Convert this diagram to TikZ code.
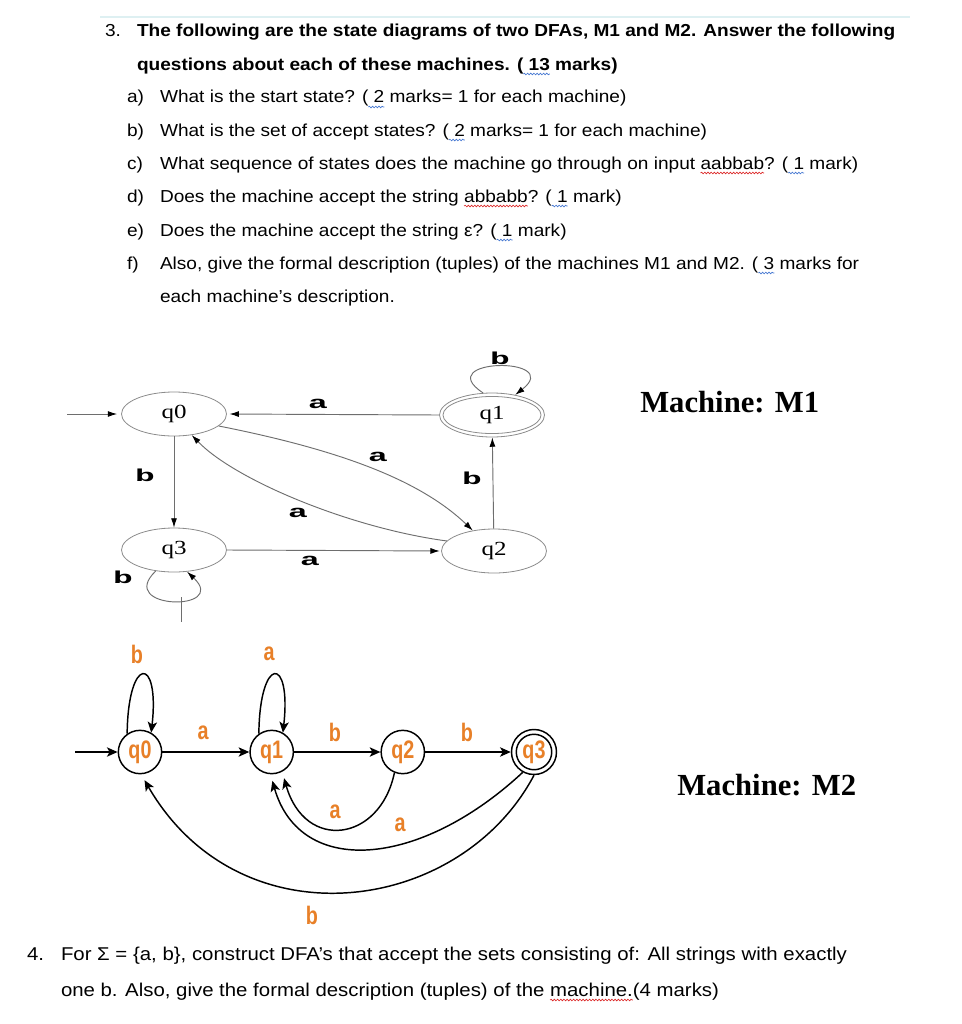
\documentclass[tikz,border=0pt]{standalone}
\usepackage{fontspec}
\usepackage{graphicx}
\setmainfont{Liberation Sans}
\newfontfamily\bodyfont{Liberation Sans}[FakeStretch=1.1]
\newfontfamily\monofont{Liberation Mono}
\newfontfamily\seriffont{Liberation Serif}
\usetikzlibrary{shapes.geometric,arrows.meta,decorations.pathmorphing}
\definecolor{m1gray}{RGB}{110,110,110}
\definecolor{m1ell}{RGB}{140,140,140}
\definecolor{m2orange}{RGB}{232,128,40}
\definecolor{sqblue}{RGB}{70,120,210}
\definecolor{sqred}{RGB}{220,40,40}
\definecolor{rulecyan}{RGB}{222,240,242}
\newcommand\qlab[1]{\scalebox{1.25}[1]{#1}}
\newcommand\wlab[1]{\scalebox{1.9}[1]{#1}}
\newcommand\olab[1]{\scalebox{0.78}[1]{#1}}
\begin{document}
\begin{tikzpicture}[x=0.75pt,y=-0.75pt,
  txt/.style={inner sep=0pt,outer sep=0pt,anchor=base west,font=\bodyfont\fontsize{13}{15}\selectfont},
  txtb/.style={txt,font=\bodyfont\fontsize{13}{15}\selectfont\bfseries},
  txtq/.style={txt,font=\bodyfont\fontsize{13.9}{16}\selectfont},
  sqb/.style={draw=sqblue,line width=0.5pt,decorate,decoration={snake,amplitude=0.6pt,segment length=2.4pt}},
  sqr/.style={sqb,draw=sqred},
  m1state/.style={ellipse,draw=m1ell,line width=0.6pt,minimum width=78.75pt,minimum height=33pt,inner sep=0pt,font=\seriffont\fontsize{15}{15}\selectfont},
  m1edge/.style={draw=m1gray,line width=0.7pt,-{Latex[color=black,length=7pt,width=4.5pt]}},
  m1lab/.style={inner sep=0pt,font=\monofont\bfseries\fontsize{13}{13}\selectfont},
  m2state/.style={circle,draw=black,line width=1.1pt,minimum size=32.5pt,inner sep=0pt,text=m2orange,font=\bfseries\fontsize{19}{19}\selectfont},
  m2edge/.style={draw=black,line width=1.1pt,-{Stealth[length=8pt,width=7pt,inset=2pt]}},
  m2lab/.style={inner sep=0pt,text=m2orange,font=\bfseries\fontsize{19}{19}\selectfont},
  mach/.style={inner sep=0pt,anchor=base west,font=\seriffont\bfseries\fontsize{23}{23}\selectfont}
]
\fill[white] (0,0) rectangle (961,1024);
\useasboundingbox (0,0) rectangle (961,1024);

% faint rule
\coordinate (r1) at (100,17);
\coordinate (r2) at (910,17);
\draw[rulecyan,line width=0.8pt] (r1) -- (r2);

% question 3
\node[txt] (n3) at (105,37) {3.};
\node[txtb] (l1) at (137,37) {The following are the state diagrams of two DFAs, M1 and M2. Answer the following};
\node[txtb] (l2a) at (137,70) {questions about each of these machines. (};
\node[txtb] (l2b) at (l2a.base east) {\ 13};
\node[txtb] (l2c) at (l2b.base east) {\ marks)};
\draw[sqb] ([yshift=-3pt]l2b.base west) -- ([yshift=-3pt]l2b.base east);

\node[txt] (la) at (127,103) {a)};
\node[txt] (la1) at (160,103) {What is the start state? (};
\node[txt] (la2) at (la1.base east) {\ 2};
\node[txt] (la3) at (la2.base east) {\ marks= 1 for each machine)};
\draw[sqb] ([yshift=-3pt]la2.base west) -- ([yshift=-3pt]la2.base east);

\node[txt] (lb) at (127,136) {b)};
\node[txt] (lb1) at (160,136) {What is the set of accept states? (};
\node[txt] (lb2) at (lb1.base east) {\ 2};
\node[txt] (lb3) at (lb2.base east) {\ marks= 1 for each machine)};
\draw[sqb] ([yshift=-3pt]lb2.base west) -- ([yshift=-3pt]lb2.base east);

\node[txt] (lc) at (127,169) {c)};
\node[txt] (lc1) at (160,169) {What sequence of states does the machine go through on input\ \hbox{}};
\node[txt] (lc2) at (lc1.base east) {aabbab};
\node[txt] (lc3) at (lc2.base east) {? (};
\node[txt] (lc4) at (lc3.base east) {\ 1};
\node[txt] (lc5) at (lc4.base east) {\ mark)};
\draw[sqr] ([yshift=-3pt]lc2.base west) -- ([yshift=-3pt]lc2.base east);
\draw[sqb] ([yshift=-3pt]lc4.base west) -- ([yshift=-3pt]lc4.base east);

\node[txt] (ld) at (127,202) {d)};
\node[txt] (ld1) at (160,202) {Does the machine accept the string\ \hbox{}};
\node[txt] (ld2) at (ld1.base east) {abbabb};
\node[txt] (ld3) at (ld2.base east) {? (};
\node[txt] (ld4) at (ld3.base east) {\ 1};
\node[txt] (ld5) at (ld4.base east) {\ mark)};
\draw[sqr] ([yshift=-3pt]ld2.base west) -- ([yshift=-3pt]ld2.base east);
\draw[sqb] ([yshift=-3pt]ld4.base west) -- ([yshift=-3pt]ld4.base east);

\node[txt] (le) at (127,236) {e)};
\node[txt] (le1) at (160,236) {Does the machine accept the string ε? (};
\node[txt] (le2) at (le1.base east) {\ 1};
\node[txt] (le3) at (le2.base east) {\ mark)};
\draw[sqb] ([yshift=-3pt]le2.base west) -- ([yshift=-3pt]le2.base east);

\node[txt] (lf) at (127,269) {f)};
\node[txt] (lf1) at (160,269) {Also, give the formal description (tuples) of the machines M1 and M2. (};
\node[txt] (lf2) at (lf1.base east) {\ 3};
\node[txt] (lf3) at (lf2.base east) {\ marks for};
\draw[sqb] ([yshift=-3pt]lf2.base west) -- ([yshift=-3pt]lf2.base east);
\node[txt] (lf4) at (160,302) {each machine’s description.};

% ---------------- Machine M1 ----------------
\node[m1state] (a0) at (174,414) {\qlab{q0}};
\node[m1state] (a1) at (492,415) {\qlab{q1}};
\node[m1state] (a2) at (494,551) {\qlab{q2}};
\node[m1state] (a3) at (174,550) {\qlab{q3}};
\draw[m1ell,line width=0.6pt] (a1.center) ellipse[x radius=36.75pt,y radius=13.9pt];

\coordinate (m1s) at (67,414);
\draw[m1edge,shorten >=3pt] (m1s) -- (a0.west);
\draw[m1edge,shorten >=2pt] (a1.west) -- (a0.east);
\draw[m1edge] (a0) -- (a3);
\draw[m1edge,shorten >=1pt] (a3.east) -- (a2.west);
\draw[m1edge] (a2) -- (a1);
\draw[m1edge] (a0.-15) .. controls (340,450) and (420,480) .. (a2.136);
\draw[m1edge] (a2.168) .. controls (350,528) and (235,480) .. (a0.-50);
\draw[m1edge] (a1.112) .. controls (430,358) and (565,356) .. (a1.41);
\draw[m1edge] (a3.229) .. controls (115,610) and (230,612) .. (a3.-59);
\coordinate (st1) at (181,597);
\coordinate (st2) at (181,622);
\draw[m1gray,line width=0.6pt] (st1) -- (st2);

\node[m1lab] (t1) at (318,404) {\wlab{a}};
\node[m1lab] (t2) at (145,475) {\wlab{b}};
\node[m1lab] (t3) at (378,457) {\wlab{a}};
\node[m1lab] (t4) at (298,513) {\wlab{a}};
\node[m1lab] (t5) at (310,561) {\wlab{a}};
\node[m1lab] (t6) at (472,478) {\wlab{b}};
\node[m1lab] (t7) at (500,358) {\wlab{b}};
\node[m1lab] (t8) at (123,577) {\wlab{b}};

\node[mach] (mach1) at (640,412) {Machine: M1};

% ---------------- Machine M2 ----------------
\node[m2state] (b0) at (140,752) {\olab{q0}};
\node[m2state] (b1) at (271.7,752) {\olab{q1}};
\node[m2state] (b2) at (402.8,752) {\olab{q2}};
\node[m2state,minimum size=33.75pt] (b3) at (534,752) {\olab{q3}};
\draw[line width=1.1pt] (b3.center) circle[radius=13.3pt];

\coordinate (m2s) at (75,752);
\draw[m2edge] (m2s) -- (b0);
\draw[m2edge] (b0) -- (b1);
\draw[m2edge] (b1) -- (b2);
\draw[m2edge] (b2) -- (b3);
\draw[m2edge] (b0.125) .. controls (128,655) and (160,655) .. (b0.60);
\draw[m2edge] (b1.125) .. controls (259.7,655) and (291.7,655) .. (b1.60);
\draw[m2edge,shorten >=5pt] (b2.-112) .. controls (380,842) and (305,852) .. (b1.-62);
\draw[m2edge,shorten >=5pt] (b3.-119) .. controls (420,868) and (300,878) .. (b1.-93);
\draw[m2edge,shorten >=5pt] (b3.-90) .. controls (460,915) and (240,945) .. (b0.-87);

\node[m2lab] (u1) at (137,654) {\olab{b}};
\node[m2lab] (u2) at (269,654) {\olab{a}};
\node[m2lab] (u3) at (203,733) {\olab{a}};
\node[m2lab] (u4) at (335,732) {\olab{b}};
\node[m2lab] (u5) at (467,732) {\olab{b}};
\node[m2lab] (u6) at (335,812) {\olab{a}};
\node[m2lab] (u7) at (400,825) {\olab{a}};
\node[m2lab] (u8) at (312,915) {\olab{b}};

\node[mach] (mach2) at (677,795) {Machine: M2};

% question 4
\node[txtq] (n4) at (27,960) {4.};
\node[txtq] (q4a) at (61,960) {For Σ = \{a, b\}, construct DFA’s that accept the sets consisting of: All strings with exactly};
\node[txtq] (q4b) at (61,996) {one b. Also, give the formal description (tuples) of the\ \hbox{}};
\node[txtq] (q4c) at (q4b.base east) {machine.};
\node[txtq] (q4d) at (q4c.base east) {(4 marks)};
\draw[sqr] ([yshift=-3pt]q4c.base west) -- ([yshift=-3pt]q4c.base east);
\end{tikzpicture}
\end{document}
